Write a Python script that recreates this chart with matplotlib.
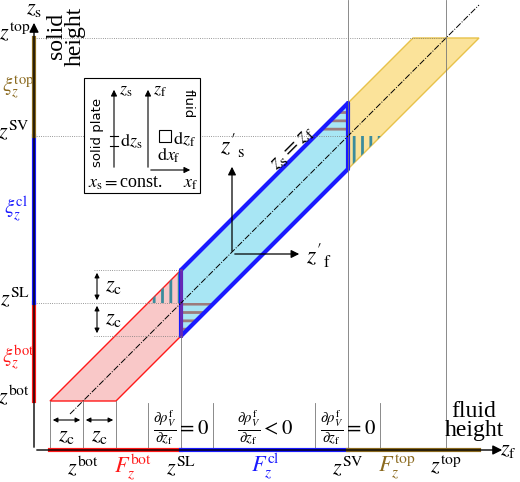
import numpy as np
import matplotlib.pyplot as plt
from matplotlib.patches import Polygon, Rectangle

plt.rcParams['font.family'] = ['Liberation Serif', 'DejaVu Serif']
plt.rcParams['mathtext.fontset'] = 'stix'
plt.rcParams['hatch.linewidth'] = 2.0

# characteristic heights (same scale on both axes)
levels = ['bot', 'SL', 'SV', 'top']
z_lev = [49, 147, 314, 412]
zc = 33
x0, y0 = 34, 32   # where the axes cross (pixel frame)

RED, BLUE, BROWN, TEAL, STRIPE = '#ff1a1a', '#1a1aff', '#8b6a1f', '#3c8c9c', '#9c7c7c'

fig = plt.figure(figsize=(5.2, 4.82), dpi=100)
ax = fig.add_axes([0, 0, 1, 1])
ax.set_xlim(0, 520)
ax.set_ylim(0, 482)
ax.axis('off')

zb, zsl, zsv, zt = z_lev
X = lambda z: x0 + z
Y = lambda z: y0 + z

def P(pts):
    return [(X(a), Y(b)) for a, b in pts]

# filled band pieces  (zf, zs)
pink = [(zb - zc, zb), (zb + zc, zb), (zsl, zsl - zc), (zsl, zsl + zc)]
blue = [(zsl, zsl - zc), (zsv, zsv - zc), (zsv, zsv + zc), (zsl, zsl + zc)]
yell = [(zsv, zsv - zc), (zt + zc, zt), (zt - zc, zt), (zsv, zsv + zc)]
ax.add_patch(Polygon(P(pink), fc='#f9c8c8', ec=RED, lw=1))
ax.add_patch(Polygon(P(yell), fc='#fbe39a', ec='#e8c24a', lw=1))
ax.add_patch(Polygon(P(blue), fc='#a8e6f4', ec='none'))

# striped triangles
tri_v1 = [(zsl - zc, zsl), (zsl, zsl), (zsl, zsl + zc)]
tri_h1 = [(zsl, zsl - zc), (zsl + zc, zsl), (zsl, zsl)]
tri_h2 = [(zsv - zc, zsv), (zsv, zsv), (zsv, zsv + zc)]
tri_v2 = [(zsv, zsv - zc), (zsv + zc, zsv), (zsv, zsv)]
for tri, h, c in [(tri_v1, '||', TEAL), (tri_v2, '||', TEAL),
                  (tri_h1, '--', STRIPE), (tri_h2, '--', STRIPE)]:
    ax.add_patch(Polygon(P(tri), fc='none', ec=c, lw=0, hatch=h))

# thick outline of central band
for a, b in [((zsl, zsl - zc), (zsv, zsv - zc)), ((zsl, zsl + zc), (zsv, zsv + zc)),
             ((zsl, zsl - zc), (zsl, zsl + zc)), ((zsv, zsv - zc), (zsv, zsv + zc))]:
    ax.plot([X(a[0]), X(b[0])], [Y(a[1]), Y(b[1])], color=BLUE, lw=3, solid_capstyle='round')
ax.plot([X(zsl)] * 2, [Y(zsl - zc), Y(zsl + zc)], color='#6a2ab0', lw=2)

# diagonal zs = zf
ax.plot([X(zb - 13), X(zt + 33)], [Y(zb - 13), Y(zt + 33)], color='k', lw=0.7, ls='-.')

# guide lines
g = dict(color='#777777', lw=0.6)
ax.plot([X(0), X(zt)], [Y(zt), Y(zt)], ls=':', **g)
ax.plot([X(0), X(zsv)], [Y(zsv), Y(zsv)], ls=':', **g)
ax.plot([X(0), X(zsl)], [Y(zsl), Y(zsl)], ls=':', **g)
ax.plot([X(60), X(zsl)], [Y(zsl + zc)] * 2, ls=':', **g)
ax.plot([X(60), X(zsl)], [Y(zsl - zc)] * 2, ls=':', **g)
ax.plot([X(zsl)] * 2, [Y(0), Y(zsl - zc)], **g)
ax.plot([X(zsv)] * 2, [Y(0), 482], **g)
ax.plot([X(zt)] * 2, [Y(0), 482], **g)
for zf in [zb - zc, zb, zb + zc]:
    ax.plot([X(zf)] * 2, [Y(0), Y(zb)], **g)
for xx in [148, 213, 315, 380]:
    ax.plot([xx] * 2, [Y(0), Y(zb) - 2], **g)

# main axes
ax.annotate('', xy=(505, Y(0)), xytext=(X(0), Y(0)),
            arrowprops=dict(arrowstyle='-|>', color='k', lw=1, mutation_scale=14))
ax.annotate('', xy=(X(0), 462), xytext=(X(0), Y(0)),
            arrowprops=dict(arrowstyle='-|>', color='k', lw=1, mutation_scale=14))
# coloured segments
ax.plot([X(zb - zc), X(zsl)], [Y(0)] * 2, color=RED, lw=3)
ax.plot([X(zsl), X(zsv)], [Y(0)] * 2, color=BLUE, lw=3)
ax.plot([X(zsv), X(zt + zc)], [Y(0)] * 2, color=BROWN, lw=3)
ax.plot([X(0)] * 2, [Y(zb), Y(zsl)], color=RED, lw=3)
ax.plot([X(0)] * 2, [Y(zsl), Y(zsv)], color=BLUE, lw=3)
ax.plot([X(0)] * 2, [Y(zsv), Y(zt)], color=BROWN, lw=3)

fs = 16
ax.text(500, 31, r'$z_{\rm f}$', fontsize=fs, va='center')
ax.text(X(0), 463, r'$z_{\rm s}$', fontsize=fs, ha='center', va='bottom')
ax.text(66, 446, 'solid\nheight', fontsize=17, rotation=90, ha='center', va='center', linespacing=0.85)
ax.text(474, 61, 'fluid\nheight', fontsize=17, ha='center', va='center', linespacing=0.9)
for i, z in enumerate(z_lev):
    lab = r'$z^{\rm %s}$' % levels[i]
    ax.text(X(0) - 4, Y(z) + 5, lab, fontsize=fs, ha='right', va='center')
    ax.text(X(z), Y(0) - 5, lab, fontsize=fs, ha='center', va='top')
ax.text(2, Y((zb + zsl) / 2) - 5, r'$\xi_z^{\rm bot}$', color=RED, fontsize=15, ha='left', va='center')
ax.text(4, Y((zsl + zsv) / 2) + 10, r'$\xi_z^{\rm cl}$', color=BLUE, fontsize=15, ha='left', va='center')
ax.text(2, Y((zsv + zt) / 2), r'$\xi_z^{\rm top}$', color=BROWN, fontsize=15, ha='left', va='center')
ax.text(133, 15, r'$F_z^{\rm bot}$', color=RED, fontsize=fs, ha='center', va='center')
ax.text(265, 15, r'$F_z^{\rm cl}$', color=BLUE, fontsize=fs, ha='center', va='center')
ax.text(397, 15, r'$F_z^{\rm top}$', color=BROWN, fontsize=fs, ha='center', va='center')
ax.text(X(zsl), 54, r'$\frac{\partial\rho_V^{\rm f}}{\partial z_{\rm f}}=0$', fontsize=15, ha='center', va='center')
ax.text(265, 54, r'$\frac{\partial\rho_V^{\rm f}}{\partial z_{\rm f}}<0$', fontsize=15, ha='center', va='center')
ax.text(X(zsv), 54, r'$\frac{\partial\rho_V^{\rm f}}{\partial z_{\rm f}}=0$', fontsize=15, ha='center', va='center')

# zc dimension arrows
ad = dict(arrowstyle='<|-|>', color='k', lw=0.8, mutation_scale=7)
ax.annotate('', xy=(X(zb - zc), 62), xytext=(X(zb), 62), arrowprops=ad)
ax.annotate('', xy=(X(zb), 62), xytext=(X(zb + zc), 62), arrowprops=ad)
ax.text(X(zb - zc / 2), 45, r'$z_{\rm c}$', fontsize=fs, ha='center', va='center')
ax.text(X(zb + zc / 2), 45, r'$z_{\rm c}$', fontsize=fs, ha='center', va='center')
ax.annotate('', xy=(97, Y(zsl + zc)), xytext=(97, Y(zsl)), arrowprops=ad)
ax.annotate('', xy=(97, Y(zsl)), xytext=(97, Y(zsl - zc)), arrowprops=ad)
ax.text(105, Y(zsl + zc / 2), r'$z_{\rm c}$', fontsize=fs, ha='left', va='center')
ax.text(105, Y(zsl - zc / 2), r'$z_{\rm c}$', fontsize=fs, ha='left', va='center')

# local frame
ox, oy = 232, 228
ar = dict(arrowstyle='-|>', color='k', lw=0.9, mutation_scale=12)
ax.annotate('', xy=(ox, 318), xytext=(ox, oy), arrowprops=ar)
ax.annotate('', xy=(302, oy), xytext=(ox, oy), arrowprops=ar)
ax.text(ox, 322, r"$z'_{\rm s}$", fontsize=fs + 1, ha='center', va='bottom')
ax.text(306, oy - 2, r"$z'_{\rm f}$", fontsize=fs + 1, ha='left', va='center')
ax.text(292, 334, r'$z_{\rm s}=z_{\rm f}$', fontsize=fs, rotation=45, ha='center', va='center')

# inset
ax.add_patch(Rectangle((84, 289), 116, 115, fc='white', ec='k', lw=0.8, zorder=5))
ia = dict(arrowstyle='-|>', color='k', lw=0.8, mutation_scale=9)
ax.annotate('', xy=(114, 395), xytext=(114, 312), arrowprops=ia, zorder=6)
ax.annotate('', xy=(148, 395), xytext=(148, 312), arrowprops=ia, zorder=6)
ax.annotate('', xy=(193, 312), xytext=(148, 312), arrowprops=ia, zorder=6)
for yy in [346, 336]:
    ax.plot([110, 118], [yy, yy], color='k', lw=0.8, zorder=6)
ax.add_patch(Rectangle((159, 340), 12, 12, fc='white', ec='k', lw=0.8, zorder=6))
kw = dict(fontsize=13, zorder=7)
ax.text(119, 392, r'$z_{\rm s}$', va='center', **kw)
ax.text(153, 392, r'$z_{\rm f}$', va='center', **kw)
ax.text(120, 341, r'${\rm d}z_{\rm s}$', va='center', **kw)
ax.text(173, 343, r'${\rm d}z_{\rm f}$', va='center', **kw)
ax.text(157, 327, r'${\rm d}x_{\rm f}$', va='center', **kw)
ax.text(88, 299, r'$x_{\rm s}=$const.', va='center', **kw)
ax.text(183, 299, r'$x_{\rm f}$', va='center', **kw)
ax.text(98, 350, 'solid plate', rotation=90, ha='center', va='center',
        family='DejaVu Sans', fontsize=9.5, zorder=7)
ax.text(188, 378, 'fluid', rotation=-90, ha='center', va='center',
        family='DejaVu Sans', fontsize=9.5, zorder=7)

fig.savefig('out.png', dpi=100)
